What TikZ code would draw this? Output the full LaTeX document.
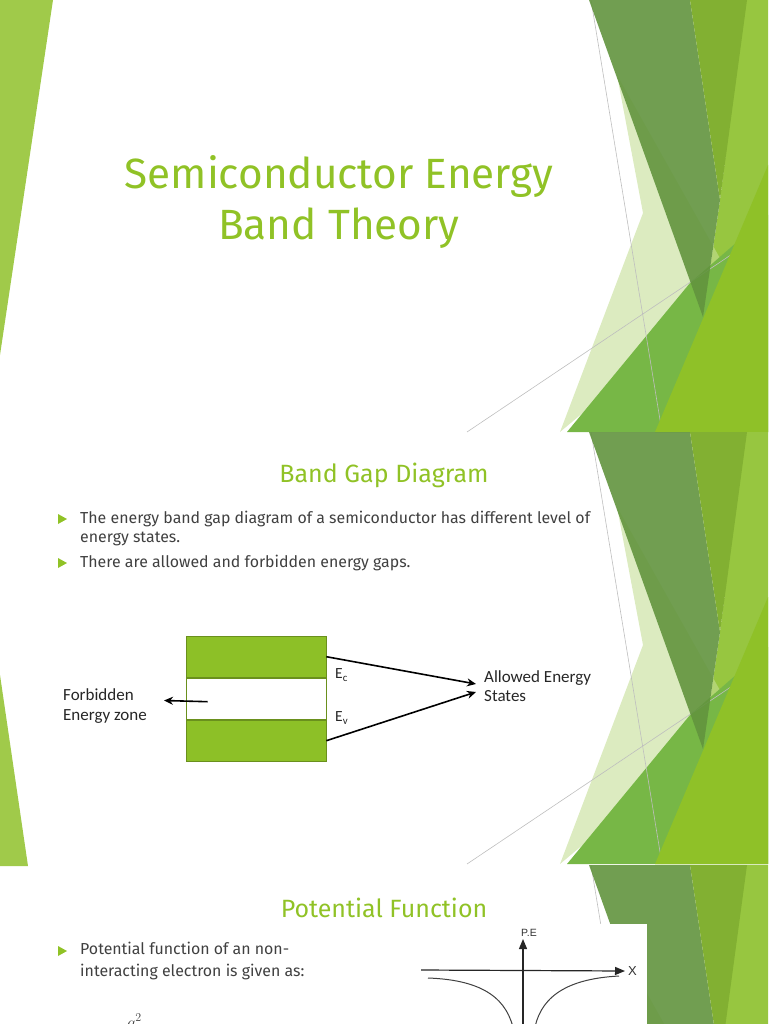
\documentclass[tikz,border=0pt]{standalone}
\usepackage{fontspec}
\setmainfont{Fira Sans}
\newfontfamily\labelfont{Carlito}
\newfontfamily\graphfont{Liberation Sans}
\usepackage{tikz}
\usetikzlibrary{arrows.meta, positioning}
\definecolor{facetgreen}{RGB}{144,194,38}
\definecolor{bodygray}{RGB}{64,64,64}
\definecolor{bandgreen}{RGB}{141,192,39}
\definecolor{leftgreen}{RGB}{160,202,74}
\definecolor{decobright}{RGB}{151,198,64}
\definecolor{decopale}{RGB}{196,222,150}
\definecolor{decomid}{RGB}{119,183,70}
\definecolor{decolime}{RGB}{143,193,40}
\definecolor{decodark}{RGB}{98,148,62}
\definecolor{decoolive}{RGB}{130,176,50}
\definecolor{decoline}{RGB}{190,190,190}

% right hand facets, drawn once per slide (slide coords, y downwards)
\newcommand{\facetdeco}{%
  \fill[decobright] (745,0) -- (768,0) -- (768,432) -- (655,432) -- (703,317) -- (720,200) -- cycle;
  \fill[decopale, opacity=.6] (617,75) -- (735,285) -- (560,432) -- (643,213) -- cycle;
  \fill[decomid] (567,432) -- (690,283) -- (768,215) -- (768,432) -- cycle;
  \draw[decoline, line width=.6pt] (591,0) -- (662,432);
  \draw[decoline, line width=.6pt] (467,432) -- (768,230);
  \fill[decolime] (655,432) -- (768,165) -- (768,432) -- cycle;
  \fill[decodark, opacity=.9] (589,0) -- (690,0) -- (720,200) -- (703,317) -- cycle;
  \fill[decoolive] (690,0) -- (747,0) -- (720,200) -- cycle;
}
\newcommand{\bulletmark}[1]{\fill[facetgreen] (#1) ++(-4,-5) -- ++(9,5) -- ++(-9,5) -- cycle;}

\begin{document}
\begin{tikzpicture}[
    x=1pt, y=-1pt,
    slidetitle/.style={text=facetgreen, align=center,
                       font=\fontsize{25}{30}\selectfont},
    bullet/.style={text=bodygray, align=left, inner sep=0pt,
                   anchor=north west, font=\fontsize{15.9}{19}\selectfont},
    band/.style={draw=bandgreen!75!black, line width=.7pt,
                 fill=bandgreen, minimum width=140pt,
                 minimum height=41.3pt, inner sep=0pt},
    gapbox/.style={band, fill=white},
    diaglabel/.style={align=left, inner sep=0pt, text=black!85,
                      font=\labelfont\fontsize{17}{19.5}\selectfont},
    graphlabel/.style={inner sep=0pt, text=black!80},
    arrow/.style={-{Stealth[length=9pt, width=8pt]}, line width=1.6pt},
    axis/.style={-{Triangle[length=10pt, width=8pt]}, line width=1.2pt, black!85},
    curve/.style={line width=1pt, black!75}
]
\useasboundingbox (0,0) rectangle (768,1024);
\clip (0,0) rectangle (768,1024);

%% slide 1
\fill[leftgreen] (0,0) -- (53,0) -- (0,355) -- cycle;
\begin{scope}
  \clip (0,0) rectangle (768,432);
  \facetdeco
\end{scope}
\node (title) [slidetitle, font=\fontsize{42.3}{51}\selectfont] at (339,202)
      {Semiconductor Energy\\Band Theory};

%% slide 2
\fill[leftgreen] (0,675) -- (28,866) -- (0,866) -- cycle;
\begin{scope}[shift={(0,432)}]
  \clip (0,0) rectangle (768,433);
  \facetdeco
\end{scope}
\node (bgtitle) [slidetitle] at (384,475) {Band Gap Diagram};
\bulletmark{62,519}
\bulletmark{62,563}
\node (pointa) [bullet] at (80,511)
      {The energy band gap diagram of a semiconductor has different level of\\energy states.};
\node (pointb) [bullet] at (80,555)
      {There are allowed and forbidden energy gaps.};

\node (cband) [band] at (256,656.7) {};
\node (gap)   [gapbox, below=0pt of cband] {};
\node (vband) [band, below=0pt of gap] {};
\node (ec) [diaglabel, anchor=west, font=\labelfont\fontsize{15.5}{17}\selectfont] at (335,675) {E\textsubscript{c}};
\node (ev) [diaglabel, anchor=west, font=\labelfont\fontsize{15.5}{17}\selectfont] at (335,718) {E\textsubscript{v}};
\node (allowed) [diaglabel, anchor=west] at (484,686) {Allowed Energy\\States};
\node (forbid)  [diaglabel, anchor=west] at (63,706) {Forbidden\\Energy zone};
\coordinate (ftip) at (164,700.5);

\draw [arrow] (cband.east) -- ([xshift=-8pt, yshift=2pt]allowed.west);
\draw [arrow] (vband.east) -- ([xshift=-8pt, yshift=-6pt]allowed.west);
\draw [arrow] ([xshift=22pt, yshift=-3pt]gap.west) -- (ftip);

%% slide 3
\begin{scope}[shift={(0,865)}]
  \clip (0,0) rectangle (768,433);
  \facetdeco
\end{scope}
\node (pftitle) [slidetitle] at (384,908) {Potential Function};
\bulletmark{62,951}
\node (pointc) [bullet, font=\fontsize{15.9}{22}\selectfont] at (80,942)
      {Potential function of an non-\\interacting electron is given as:};
\node (qsq) [anchor=base west, inner sep=0pt, text=bodygray,
             font=\fontsize{17}{20}\selectfont] at (127,1028) {$q^2$};

% potential energy sketch (white picture over the facets)
\fill[white] (408,924) rectangle (647,1030);
\coordinate (xfrom) at (421,970);
\coordinate (ybot)  at (523,1030);
\coordinate (ytop)  at (523,939);
\node (xlab)  [graphlabel, anchor=west, font=\graphfont\fontsize{13}{15}\selectfont] at (628,971) {X};
\node (pelab) [graphlabel, anchor=south west, font=\graphfont\fontsize{10.5}{12}\selectfont] at (521,937) {P.E};
\draw [axis] (xfrom) -- ([xshift=-3pt]xlab.west);
\draw [axis] (ybot) -- (ytop);
\draw [curve] (428,978) .. controls (485,980) and (508,1000) .. (514,1032);
\draw [curve] (619,976) .. controls (562,979) and (539,1000) .. (534,1032);
\end{tikzpicture}
\end{document}
